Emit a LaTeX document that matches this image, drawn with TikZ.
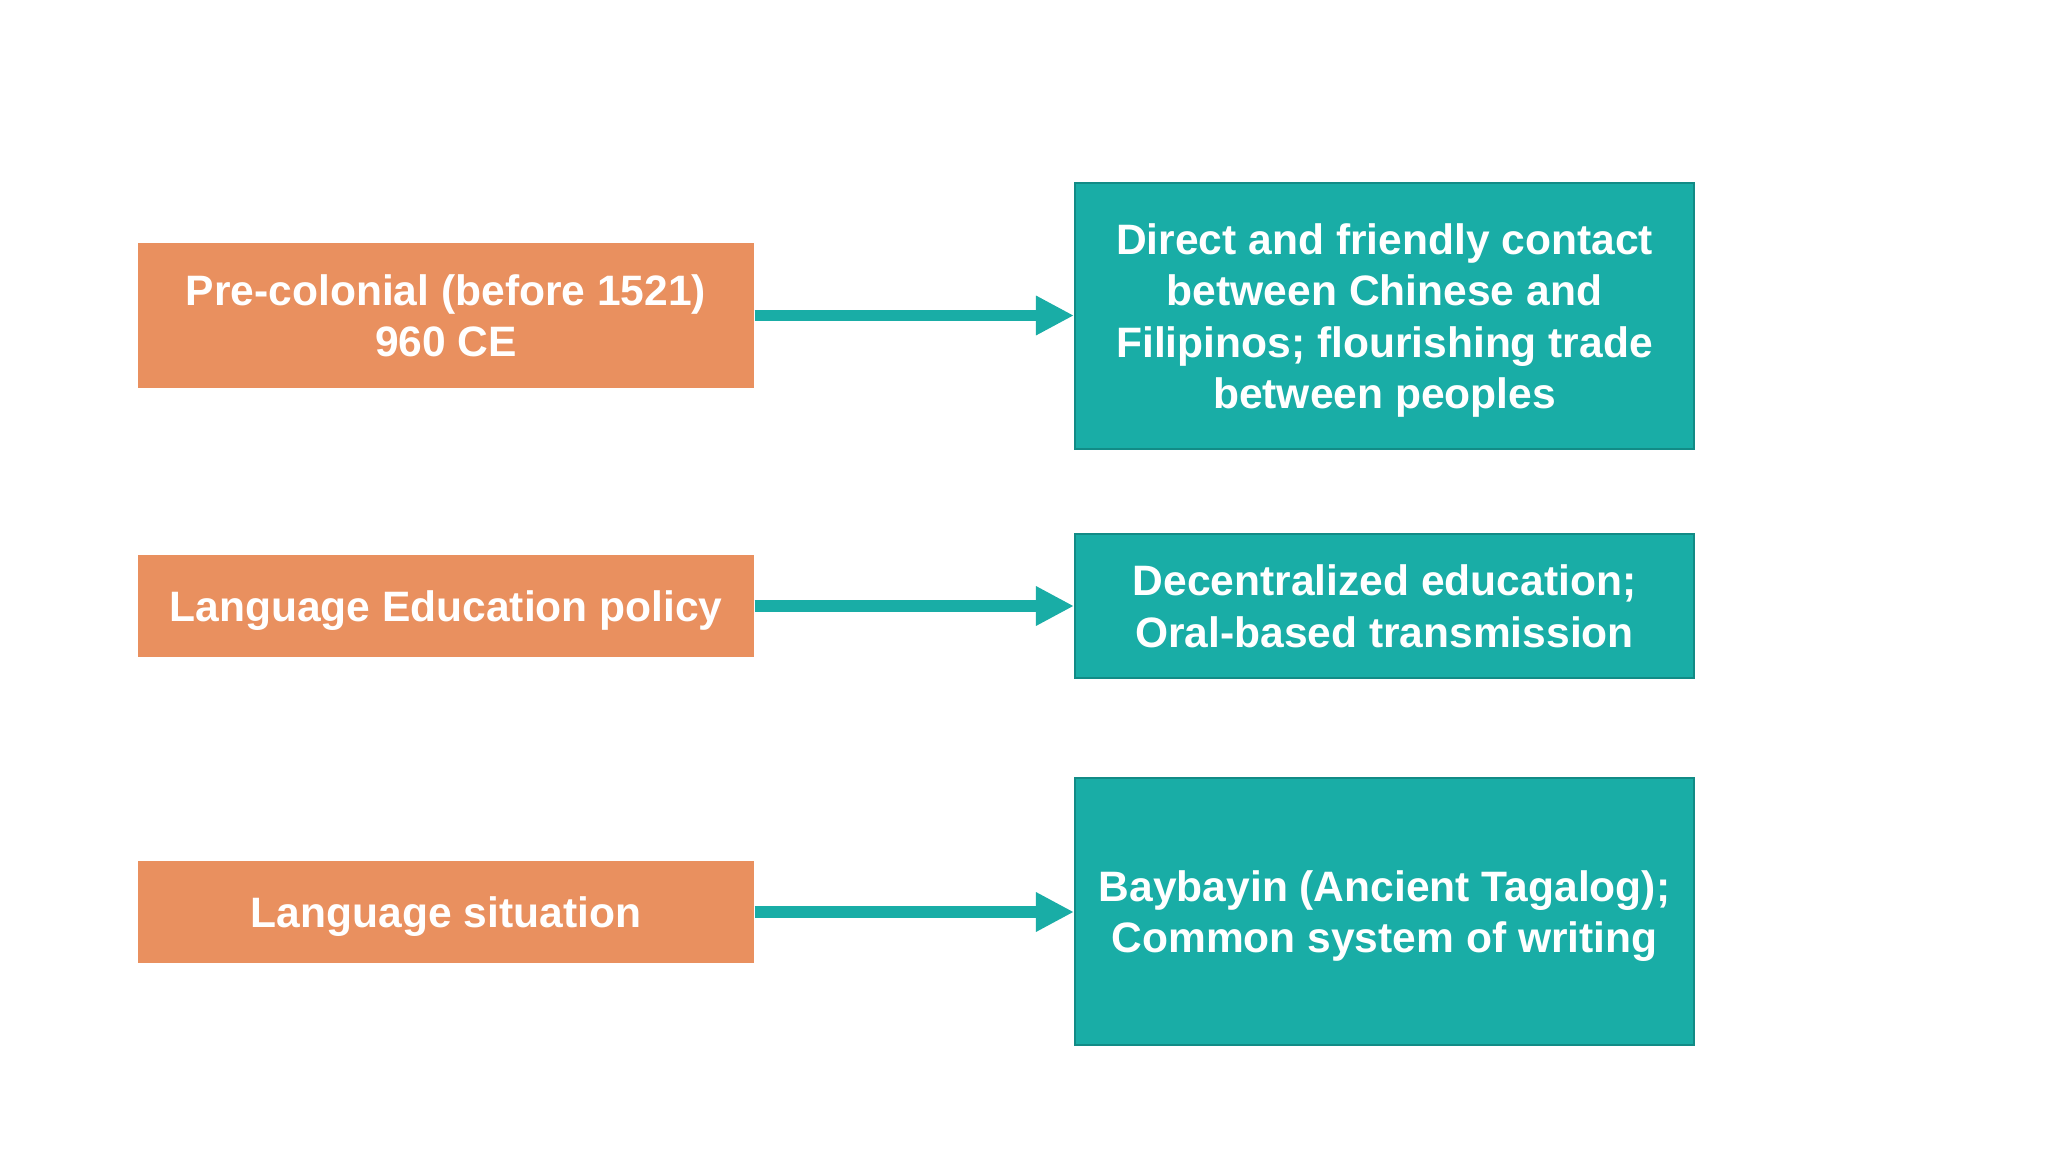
\documentclass[tikz,border=0pt]{standalone}
\usepackage{fontspec}
\setmainfont{Liberation Sans}
\usetikzlibrary{arrows.meta,positioning}

\definecolor{periodorange}{HTML}{E9905F}
\definecolor{outcometeal}{HTML}{19ADA6}
\definecolor{outcomeedge}{HTML}{128B86}

\begin{document}
\begin{tikzpicture}[x=0.01cm,y=-0.01cm,
    every node/.style={font=\fontsize{12.1}{14.6}\selectfont\bfseries, text=white, align=center, inner sep=0pt, text depth=-1pt},
    period/.style={fill=periodorange, minimum width=616*0.01cm},
    outcome/.style={fill=outcometeal, draw=outcomeedge, line width=0.6pt, minimum width=619*0.01cm},
    link/.style={draw=outcometeal, line width=3.4pt, -{Triangle[length=10.8pt,width=10.5pt]}}]
  \useasboundingbox[fill=white] (0,0) rectangle (2048,1152);
  % left column
  \node[period, minimum height=145*0.01cm] (pre) at (446,315.5) {Pre-colonial (before 1521)\\960 CE};
  \node[period, minimum height=102*0.01cm] (policy) at (446,606) {Language Education policy};
  \node[period, minimum height=102*0.01cm] (situation) at (446,912) {Language situation};
  % right column
  \node[outcome, minimum height=266*0.01cm] (contact) at (1384.5,316) {Direct and friendly contact\\between Chinese and\\Filipinos; flourishing trade\\between peoples};
  \node[outcome, minimum height=144*0.01cm] (education) at (1384.5,606) {Decentralized education;\\Oral-based transmission};
  \node[outcome, minimum height=267*0.01cm] (writing) at (1384.5,911.5) {Baybayin (Ancient Tagalog);\\Common system of writing};
  % arrows
  \draw[link] (pre.east) -- (contact.west |- pre.east);
  \draw[link] (policy.east) -- (education.west |- policy.east);
  \draw[link] (situation.east) -- (writing.west |- situation.east);
\end{tikzpicture}
\end{document}
